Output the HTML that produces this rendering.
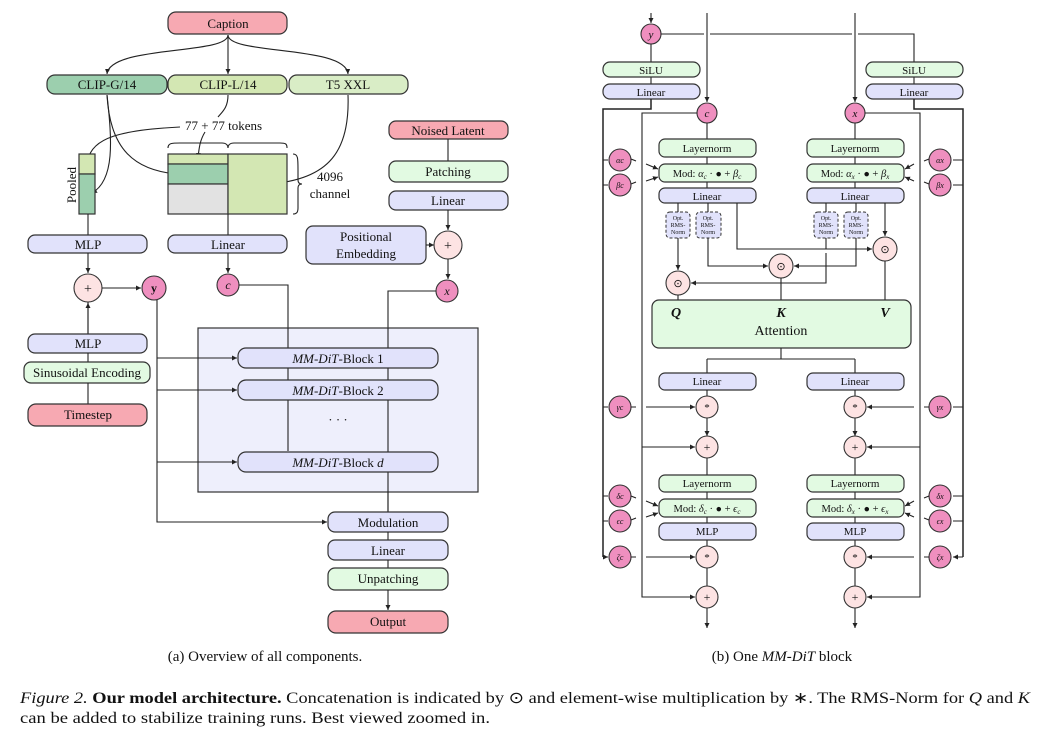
<!DOCTYPE html>
<html><head><meta charset="utf-8"><style>
html,body{margin:0;padding:0;background:#fff}
svg{display:block}
text{font-family:"Liberation Serif",serif;fill:#111}
.b{stroke:#333;stroke-width:1.2}
.l{stroke:#222;stroke-width:1.1;fill:none}
.pk{fill:#f7a9b2}.gd{fill:#9ccfae}.gl{fill:#d3e7b3}.gm{fill:#d9edc6}.bl{fill:#e1e2fb}.gr{fill:#e2fae2}
.cp{fill:#ef8fbf;stroke:#333;stroke-width:1.1}.cl{fill:#fde3e3;stroke:#333;stroke-width:1.1}
</style></head><body>
<svg width="1050" height="741" viewBox="0 0 1050 741" xmlns="http://www.w3.org/2000/svg">
<defs><marker id="a" markerWidth="6" markerHeight="6" refX="5" refY="3" orient="auto" markerUnits="userSpaceOnUse"><path d="M0,0.5 L5,3 L0,5.5 z" fill="#222"/></marker></defs>

<!-- LEFT -->
<rect x="168" y="12" width="119" height="22" rx="8" class="b pk"/><text x="228" y="28" font-size="13" text-anchor="middle">Caption</text>
<path class="l" d="M228,35 C228,55 110,45 107,74" marker-end="url(#a)"/>
<path class="l" d="M228,35 L228,74" marker-end="url(#a)"/>
<path class="l" d="M228,35 C228,55 346,45 348,74" marker-end="url(#a)"/>
<rect x="47" y="75" width="120" height="19" rx="8" class="b gd"/><text x="107" y="89" font-size="13" text-anchor="middle">CLIP-G/14</text>
<rect x="168" y="75" width="119" height="19" rx="8" class="b gl"/><text x="228" y="89" font-size="13" text-anchor="middle">CLIP-L/14</text>
<rect x="289" y="75" width="119" height="19" rx="8" class="b gm"/><text x="348" y="89" font-size="13" text-anchor="middle">T5 XXL</text>
<text x="185" y="130" font-size="13">77 + 77 tokens</text>
<path class="l" d="M228,95 C228,108 222,112 218,117"/>
<path class="l" d="M205,132 C200,140 199,148 198,158" marker-end="url(#a)"/>
<path class="l" d="M180,127 C120,130 92,138 88,160" marker-end="url(#a)"/>
<path class="l" d="M107,95 C112,140 115,180 92,193" marker-end="url(#a)"/>
<path class="l" d="M107,95 C110,150 135,170 176,174" marker-end="url(#a)"/>
<path class="l" d="M348,95 C350,150 330,180 268,184" marker-end="url(#a)"/>
<path class="l" d="M168,148 C168,143 172,143 180,143 L222,143 C226,143 228,145 228,148 C228,145 230,143 234,143 L280,143 C286,143 287,144 287,148"/>
<rect x="168" y="154" width="60" height="10" class="b gl"/>
<rect x="168" y="164" width="60" height="20" class="b gd"/>
<rect x="168" y="184" width="60" height="30" class="b" fill="#e2e2e2"/>
<rect x="228" y="154" width="59" height="60" class="b gl"/>
<path class="l" d="M293,154 C298,154 298,158 298,170 L298,180 C298,183 300,184 302,184 C300,184 298,185 298,188 L298,208 C298,213 296,214 293,214"/>
<text x="330" y="181" font-size="13" text-anchor="middle">4096</text>
<text x="330" y="198" font-size="13" text-anchor="middle">channel</text>
<rect x="79" y="154" width="16" height="20" class="b gl"/>
<rect x="79" y="174" width="16" height="40" class="b gd"/>
<text transform="translate(76,185) rotate(-90)" font-size="13" text-anchor="middle">Pooled</text>
<path class="l" d="M88,214 L88,235"/><path class="l" d="M228,214 L228,235"/>
<rect x="28" y="235" width="119" height="18" rx="7" class="b bl"/><text x="88" y="249" font-size="13" text-anchor="middle">MLP</text>
<rect x="168" y="235" width="119" height="18" rx="7" class="b bl"/><text x="228" y="249" font-size="13" text-anchor="middle">Linear</text>
<path class="l" d="M88,253 L88,273" marker-end="url(#a)"/>
<path class="l" d="M228,253 L228,273" marker-end="url(#a)"/>
<circle cx="88" cy="288" r="14" class="cl"/><text x="88" y="293" font-size="14" text-anchor="middle">+</text>
<path class="l" d="M102,288 L141,288" marker-end="url(#a)"/>
<circle cx="154" cy="288" r="12" class="cp"/><text x="154" y="292" font-size="12" font-weight="bold" text-anchor="middle">y</text>
<circle cx="228" cy="285" r="11" class="cp"/><text x="228" y="289" font-size="12" font-style="italic" text-anchor="middle">c</text>
<path class="l" d="M239,285 L288,285 L288,451" marker-end="url(#a)"/>
<rect x="389" y="121" width="119" height="18" rx="7" class="b pk"/><text x="448" y="135" font-size="13" text-anchor="middle">Noised Latent</text>
<path class="l" d="M448,139 L448,161"/>
<rect x="389" y="161" width="119" height="21" rx="7" class="b gr"/><text x="448" y="176" font-size="13" text-anchor="middle">Patching</text>
<rect x="389" y="191" width="119" height="19" rx="7" class="b bl"/><text x="448" y="205" font-size="13" text-anchor="middle">Linear</text>
<path class="l" d="M448,210 L448,230" marker-end="url(#a)"/>
<rect x="306" y="226" width="120" height="38" rx="7" class="b bl"/><text x="366" y="241" font-size="13" text-anchor="middle">Positional</text><text x="366" y="258" font-size="13" text-anchor="middle">Embedding</text>
<path class="l" d="M426,245 L434,245" marker-end="url(#a)"/>
<circle cx="448" cy="245" r="14" class="cl"/><text x="448" y="250" font-size="14" text-anchor="middle">+</text>
<path class="l" d="M448,259 L448,279" marker-end="url(#a)"/>
<circle cx="447" cy="291" r="11" class="cp"/><text x="447" y="295" font-size="12" font-style="italic" text-anchor="middle">x</text>
<path class="l" d="M436,291 L388,291 L388,512"/>
<!-- big box -->
<rect x="198" y="328" width="280" height="164" class="b" fill="#eeeffc"/>
<path class="l" d="M288,328 L288,451"/><path class="l" d="M388,328 L388,512"/>
<rect x="238" y="348" width="200" height="20" rx="8" class="b bl"/><text x="338" y="363" font-size="13" text-anchor="middle"><tspan font-style="italic">MM-DiT</tspan>-Block 1</text>
<rect x="238" y="380" width="200" height="20" rx="8" class="b bl"/><text x="338" y="395" font-size="13" text-anchor="middle"><tspan font-style="italic">MM-DiT</tspan>-Block 2</text>
<text x="338" y="424" font-size="13" text-anchor="middle">· · ·</text>
<rect x="238" y="452" width="200" height="20" rx="8" class="b bl"/><text x="338" y="467" font-size="13" text-anchor="middle"><tspan font-style="italic">MM-DiT</tspan>-Block <tspan font-style="italic">d</tspan></text>
<path class="l" d="M88,302 L88,334"/>
<path class="l" d="M88,334 L88,303" marker-end="url(#a)"/>
<rect x="28" y="334" width="119" height="19" rx="7" class="b bl"/><text x="88" y="348" font-size="13" text-anchor="middle">MLP</text>
<path class="l" d="M88,353 L88,362"/>
<rect x="24" y="362" width="126" height="21" rx="7" class="b gr"/><text x="87" y="377" font-size="13" text-anchor="middle">Sinusoidal Encoding</text>
<path class="l" d="M88,383 L88,404"/>
<rect x="28" y="404" width="119" height="22" rx="8" class="b pk"/><text x="88" y="419" font-size="13" text-anchor="middle">Timestep</text>
<path class="l" d="M157,300 L157,522 L327,522" marker-end="url(#a)"/>
<path class="l" d="M157,358 L237,358" marker-end="url(#a)"/>
<path class="l" d="M157,390 L237,390" marker-end="url(#a)"/>
<path class="l" d="M157,462 L237,462" marker-end="url(#a)"/>
<rect x="328" y="512" width="120" height="20" rx="7" class="b bl"/><text x="388" y="527" font-size="13" text-anchor="middle">Modulation</text>
<path class="l" d="M388,532 L388,540"/>
<rect x="328" y="540" width="120" height="20" rx="7" class="b bl"/><text x="388" y="555" font-size="13" text-anchor="middle">Linear</text>
<path class="l" d="M388,560 L388,568"/>
<rect x="328" y="568" width="120" height="22" rx="7" class="b gr"/><text x="388" y="583" font-size="13" text-anchor="middle">Unpatching</text>
<path class="l" d="M388,590 L388,610" marker-end="url(#a)"/>
<rect x="328" y="611" width="120" height="22" rx="8" class="b pk"/><text x="388" y="626" font-size="13" text-anchor="middle">Output</text>

<!-- RIGHT -->
<path class="l" d="M651,13 L651,23" marker-end="url(#a)"/>
<circle cx="651" cy="34" r="10" class="cp"/><text x="651" y="38" font-size="11" font-style="italic" text-anchor="middle">y</text>
<path class="l" d="M661,34 L704,34 M710,34 L852,34 M858,34 L914,34 L914,62"/>
<path class="l" d="M651,44 L651,62 M651,77 L651,84"/>
<path class="l" d="M914,77 L914,84"/>
<rect x="603" y="62" width="97" height="15" rx="7" class="b gr"/><text x="651" y="74" font-size="11" text-anchor="middle">SiLU</text>
<rect x="603" y="84" width="97" height="15" rx="7" class="b bl"/><text x="651" y="96" font-size="11" text-anchor="middle">Linear</text>
<rect x="866" y="62" width="97" height="15" rx="7" class="b gr"/><text x="914" y="74" font-size="11" text-anchor="middle">SiLU</text>
<rect x="866" y="84" width="97" height="15" rx="7" class="b bl"/><text x="914" y="96" font-size="11" text-anchor="middle">Linear</text>
<path class="l" style="stroke-width:1.5" d="M651,99 L651,109 L603,109 L603,557"/>
<path class="l" style="stroke-width:1.5" d="M914,99 L914,109 L963,109 L963,557"/>
<path class="l" d="M707,13 L707,102" marker-end="url(#a)"/>
<path class="l" d="M855,13 L855,102" marker-end="url(#a)"/>
<circle cx="707" cy="113" r="10" class="cp"/><text x="707" y="117" font-size="11" font-style="italic" text-anchor="middle">c</text>
<circle cx="855" cy="113" r="10" class="cp"/><text x="855" y="117" font-size="11" font-style="italic" text-anchor="middle">x</text>
<path class="l" d="M697,113 L642,113 L642,597 L695,597" marker-end="url(#a)"/>
<path class="l" d="M642,447 L695,447" marker-end="url(#a)"/>
<path class="l" d="M865,113 L920,113 L920,597 L867,597" marker-end="url(#a)"/>
<path class="l" d="M920,447 L867,447" marker-end="url(#a)"/>
<path class="l" d="M707,123 L707,139 M707,157 L707,164 M707,182 L707,188 M855,123 L855,139 M855,157 L855,164 M855,182 L855,188"/>
<!-- c column -->
<rect x="659" y="139" width="97" height="18" rx="6" class="b gr"/><text x="707" y="152" font-size="11" text-anchor="middle">Layernorm</text>
<rect x="659" y="164" width="97" height="18" rx="6" class="b gr"/><text x="707" y="177" font-size="10.5" text-anchor="middle">Mod: <tspan font-style="italic">α<tspan font-size="7" dy="2">c</tspan></tspan><tspan dy="-2"> · ● + </tspan><tspan font-style="italic">β<tspan font-size="7" dy="2">c</tspan></tspan></text>
<rect x="659" y="188" width="97" height="15" rx="6" class="b bl"/><text x="707" y="200" font-size="11" text-anchor="middle">Linear</text>
<rect x="807" y="139" width="97" height="18" rx="6" class="b gr"/><text x="855" y="152" font-size="11" text-anchor="middle">Layernorm</text>
<rect x="807" y="164" width="97" height="18" rx="6" class="b gr"/><text x="855" y="177" font-size="10.5" text-anchor="middle">Mod: <tspan font-style="italic">α<tspan font-size="7" dy="2">x</tspan></tspan><tspan dy="-2"> · ● + </tspan><tspan font-style="italic">β<tspan font-size="7" dy="2">x</tspan></tspan></text>
<rect x="807" y="188" width="97" height="15" rx="6" class="b bl"/><text x="855" y="200" font-size="11" text-anchor="middle">Linear</text>
<!-- opt boxes -->
<g font-size="6" text-anchor="middle">
<rect x="666" y="212" width="24" height="26" rx="4" fill="#e1e2fb" stroke="#333" stroke-dasharray="3,2"/><text x="678" y="220">Opt.</text><text x="678" y="227">RMS-</text><text x="678" y="234">Norm</text>
<rect x="696" y="212" width="25" height="26" rx="4" fill="#e1e2fb" stroke="#333" stroke-dasharray="3,2"/><text x="708" y="220">Opt.</text><text x="708" y="227">RMS-</text><text x="708" y="234">Norm</text>
<rect x="814" y="212" width="24" height="26" rx="4" fill="#e1e2fb" stroke="#333" stroke-dasharray="3,2"/><text x="826" y="220">Opt.</text><text x="826" y="227">RMS-</text><text x="826" y="234">Norm</text>
<rect x="844" y="212" width="24" height="26" rx="4" fill="#e1e2fb" stroke="#333" stroke-dasharray="3,2"/><text x="856" y="220">Opt.</text><text x="856" y="227">RMS-</text><text x="856" y="234">Norm</text>
</g>
<path class="l" d="M678,203 L678,212 M708,203 L708,212 M826,203 L826,212 M856,203 L856,212"/>
<path class="l" d="M678,238 L678,270" marker-end="url(#a)"/>
<path class="l" d="M708,238 L708,266 L768,266" marker-end="url(#a)"/>
<path class="l" d="M737,203 L737,249 L872,249" marker-end="url(#a)"/>
<path class="l" d="M826,238 L826,249 M826,253 L826,283 L691,283" marker-end="url(#a)"/>
<path class="l" d="M856,238 L856,266 L794,266" marker-end="url(#a)"/>
<path class="l" d="M885,203 L885,236" marker-end="url(#a)"/>
<circle cx="678" cy="283" r="12" class="cl"/><text x="678" y="287" font-size="11" text-anchor="middle">⊙</text>
<circle cx="781" cy="266" r="12" class="cl"/><text x="781" y="270" font-size="11" text-anchor="middle">⊙</text>
<circle cx="885" cy="249" r="12" class="cl"/><text x="885" y="253" font-size="11" text-anchor="middle">⊙</text>
<path class="l" d="M678,295 L678,300 M781,278 L781,300 M885,261 L885,300"/>
<rect x="652" y="300" width="259" height="48" rx="7" class="b gr"/>
<text x="676" y="317" font-size="14" font-style="italic" font-weight="bold" text-anchor="middle">Q</text>
<text x="781" y="317" font-size="14" font-style="italic" font-weight="bold" text-anchor="middle">K</text>
<text x="885" y="317" font-size="14" font-style="italic" font-weight="bold" text-anchor="middle">V</text>
<text x="781" y="335" font-size="14" text-anchor="middle">Attention</text>
<path class="l" d="M781,348 L781,359 M707,359 L855,359 M707,359 L707,373 M855,359 L855,373"/>
<rect x="659" y="373" width="97" height="17" rx="6" class="b bl"/><text x="707" y="385" font-size="11" text-anchor="middle">Linear</text>
<rect x="807" y="373" width="97" height="17" rx="6" class="b bl"/><text x="855" y="385" font-size="11" text-anchor="middle">Linear</text>
<g id="colc">
<path class="l" d="M707,390 L707,396 M707,418 L707,436" marker-end="url(#a)"/>
<path class="l" d="M707,458 L707,475 M707,492 L707,499 M707,517 L707,523 M707,540 L707,546 M707,568 L707,586 M707,608 L707,628" marker-end="url(#a)"/>
</g>
<path class="l" d="M855,390 L855,396 M855,418 L855,436" marker-end="url(#a)"/>
<path class="l" d="M855,458 L855,475 M855,492 L855,499 M855,517 L855,523 M855,540 L855,546 M855,568 L855,586 M855,608 L855,628" marker-end="url(#a)"/>
<circle cx="707" cy="407" r="11" class="cl"/><text x="707" y="411" font-size="11" text-anchor="middle">*</text>
<circle cx="707" cy="447" r="11" class="cl"/><text x="707" y="451" font-size="12" text-anchor="middle">+</text>
<circle cx="707" cy="557" r="11" class="cl"/><text x="707" y="561" font-size="11" text-anchor="middle">*</text>
<circle cx="707" cy="597" r="11" class="cl"/><text x="707" y="601" font-size="12" text-anchor="middle">+</text>
<circle cx="855" cy="407" r="11" class="cl"/><text x="855" y="411" font-size="11" text-anchor="middle">*</text>
<circle cx="855" cy="447" r="11" class="cl"/><text x="855" y="451" font-size="12" text-anchor="middle">+</text>
<circle cx="855" cy="557" r="11" class="cl"/><text x="855" y="561" font-size="11" text-anchor="middle">*</text>
<circle cx="855" cy="597" r="11" class="cl"/><text x="855" y="601" font-size="12" text-anchor="middle">+</text>
<rect x="659" y="475" width="97" height="17" rx="6" class="b gr"/><text x="707" y="487" font-size="11" text-anchor="middle">Layernorm</text>
<rect x="659" y="499" width="97" height="18" rx="6" class="b gr"/><text x="707" y="512" font-size="10.5" text-anchor="middle">Mod: <tspan font-style="italic">δ<tspan font-size="7" dy="2">c</tspan></tspan><tspan dy="-2"> · ● + </tspan><tspan font-style="italic">ϵ<tspan font-size="7" dy="2">c</tspan></tspan></text>
<rect x="659" y="523" width="97" height="17" rx="6" class="b bl"/><text x="707" y="535" font-size="11" text-anchor="middle">MLP</text>
<rect x="807" y="475" width="97" height="17" rx="6" class="b gr"/><text x="855" y="487" font-size="11" text-anchor="middle">Layernorm</text>
<rect x="807" y="499" width="97" height="18" rx="6" class="b gr"/><text x="855" y="512" font-size="10.5" text-anchor="middle">Mod: <tspan font-style="italic">δ<tspan font-size="7" dy="2">x</tspan></tspan><tspan dy="-2"> · ● + </tspan><tspan font-style="italic">ϵ<tspan font-size="7" dy="2">x</tspan></tspan></text>
<rect x="807" y="523" width="97" height="17" rx="6" class="b bl"/><text x="855" y="535" font-size="11" text-anchor="middle">MLP</text>
<!-- param circles left -->
<g font-size="8" font-style="italic" text-anchor="middle">
<path class="l" d="M603,160 L608,160 M603,185 L608,185 M603,407 L608,407 M603,496 L608,496 M603,521 L608,521 M603,557 L608,557" marker-end="url(#a)"/>
<circle cx="620" cy="160" r="11" class="cp"/><text x="620" y="163">αc</text>
<circle cx="620" cy="185" r="11" class="cp"/><text x="620" y="188">βc</text>
<circle cx="620" cy="407" r="11" class="cp"/><text x="620" y="410">γc</text>
<circle cx="620" cy="496" r="11" class="cp"/><text x="620" y="499">δc</text>
<circle cx="620" cy="521" r="11" class="cp"/><text x="620" y="524">ϵc</text>
<circle cx="620" cy="557" r="11" class="cp"/><text x="620" y="560">ζc</text>
<path class="l" d="M631,159 L636,161 M646,164 L658,169" marker-end="url(#a)"/>
<path class="l" d="M631,184 L636,182 M646,181 L658,177" marker-end="url(#a)"/>
<path class="l" d="M631,407 L636,407 M646,407 L695,407" marker-end="url(#a)"/>
<path class="l" d="M631,496 L636,498 M646,501 L658,506" marker-end="url(#a)"/>
<path class="l" d="M631,520 L636,518 M646,517 L658,513" marker-end="url(#a)"/>
<path class="l" d="M631,557 L636,557 M646,557 L695,557" marker-end="url(#a)"/>
<path class="l" d="M963,160 L953,160 M963,185 L953,185 M963,407 L953,407 M963,496 L953,496 M963,521 L953,521 M963,557 L953,557" marker-end="url(#a)"/>
<circle cx="940" cy="160" r="11" class="cp"/><text x="940" y="163">αx</text>
<circle cx="940" cy="185" r="11" class="cp"/><text x="940" y="188">βx</text>
<circle cx="940" cy="407" r="11" class="cp"/><text x="940" y="410">γx</text>
<circle cx="940" cy="496" r="11" class="cp"/><text x="940" y="499">δx</text>
<circle cx="940" cy="521" r="11" class="cp"/><text x="940" y="524">ϵx</text>
<circle cx="940" cy="557" r="11" class="cp"/><text x="940" y="560">ζx</text>
<path class="l" d="M929,159 L924,161 M914,164 L905,169" marker-end="url(#a)"/>
<path class="l" d="M929,184 L924,182 M914,181 L905,177" marker-end="url(#a)"/>
<path class="l" d="M929,407 L924,407 M914,407 L867,407" marker-end="url(#a)"/>
<path class="l" d="M929,496 L924,498 M914,501 L905,506" marker-end="url(#a)"/>
<path class="l" d="M929,520 L924,518 M914,517 L905,513" marker-end="url(#a)"/>
<path class="l" d="M929,557 L924,557 M914,557 L867,557" marker-end="url(#a)"/>
</g>

<!-- captions -->
<text x="265" y="661" font-size="15" text-anchor="middle">(a) Overview of all components.</text>
<text x="782" y="661" font-size="15" text-anchor="middle">(b) One <tspan font-style="italic">MM-DiT</tspan> block</text>
<text x="20" y="703" font-size="16" textLength="1010" lengthAdjust="spacingAndGlyphs"><tspan font-style="italic">Figure 2.</tspan> <tspan font-weight="bold">Our model architecture.</tspan> Concatenation is indicated by ⊙ and element-wise multiplication by ∗. The RMS-Norm for <tspan font-style="italic">Q</tspan> and <tspan font-style="italic">K</tspan></text>
<text x="20" y="723" font-size="16" textLength="470" lengthAdjust="spacingAndGlyphs">can be added to stabilize training runs. Best viewed zoomed in.</text>
</svg>
</body></html>
